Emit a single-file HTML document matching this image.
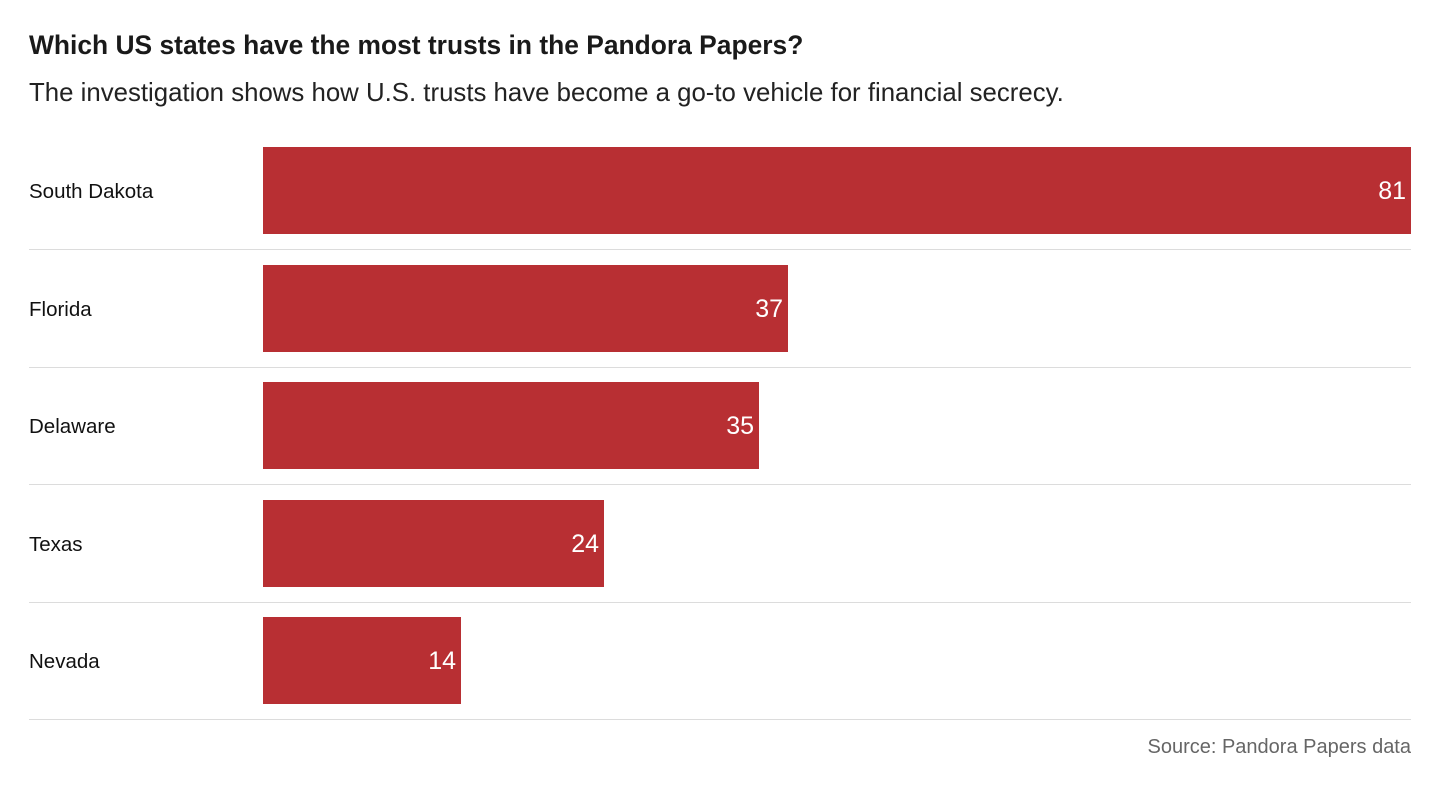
<!DOCTYPE html>
<html><head><meta charset="utf-8"><style>
body{margin:0;width:1440px;height:810px;background:#fff;font-family:"Liberation Sans",sans-serif;position:relative;overflow:hidden;color:#222}
.t{position:absolute;left:29px;top:30px;font-size:26.4px;font-weight:bold;color:#1a1a1a;white-space:nowrap}
.s{position:absolute;left:29px;top:79px;font-size:25.8px;color:#222;white-space:nowrap}
.lab{position:absolute;left:29px;font-size:20.5px;color:#111}
.bar{position:absolute;left:263px;height:87px;background:#b82f33}
.v{position:absolute;right:5px;top:1px;line-height:87px;color:#fff;font-size:25px}
.sep{position:absolute;left:29px;width:1382px;height:1px;background:#dcdcdc}
.src{position:absolute;right:29px;top:736px;font-size:20px;color:#666}
</style></head><body>
<div class="t">Which US states have the most trusts in the Pandora Papers?</div>
<div class="s">The investigation shows how U.S. trusts have become a go-to vehicle for financial secrecy.</div>

<div class="lab" style="top:180px">South Dakota</div>
<div class="bar" style="top:147px;width:1148px"><span class="v">81</span></div>
<div class="sep" style="top:249px"></div>

<div class="lab" style="top:298px">Florida</div>
<div class="bar" style="top:265px;width:525px"><span class="v">37</span></div>
<div class="sep" style="top:367px"></div>

<div class="lab" style="top:415px">Delaware</div>
<div class="bar" style="top:382px;width:496px"><span class="v">35</span></div>
<div class="sep" style="top:484px"></div>

<div class="lab" style="top:533px">Texas</div>
<div class="bar" style="top:500px;width:341px"><span class="v">24</span></div>
<div class="sep" style="top:602px"></div>

<div class="lab" style="top:650px">Nevada</div>
<div class="bar" style="top:617px;width:198px"><span class="v">14</span></div>
<div class="sep" style="top:719px"></div>

<div class="src">Source: Pandora Papers data</div>
</body></html>
